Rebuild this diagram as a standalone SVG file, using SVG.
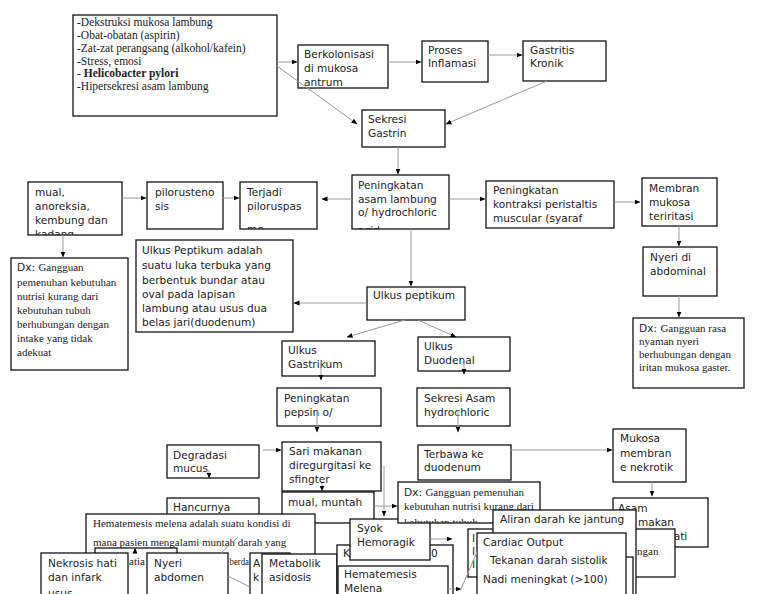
<svg xmlns="http://www.w3.org/2000/svg" width="768" height="594" viewBox="0 0 768 594">
<defs>
<style>
.b{fill:#fff;stroke:#111;stroke-width:1.3}
.n{fill:none;stroke:#111;stroke-width:1.3}
.t{font-family:"DejaVu Sans",sans-serif;font-size:10.6px;fill:#222}
.s{font-family:"Liberation Serif",serif;font-size:11px;fill:#222}
.sl{font-family:"Liberation Serif",serif;font-size:11.5px;fill:#222}
.c{fill:none;stroke:#9a9a9a;stroke-width:1}
.a{marker-end:url(#ah)}
</style>
<marker id="ah" markerUnits="userSpaceOnUse" markerWidth="6" markerHeight="6" refX="5.5" refY="3" orient="auto"><path d="M0,0.5 L6,3 L0,5.5 z" fill="#000"/></marker>
<clipPath id="cBerk"><rect x="298" y="45" width="90" height="43"/></clipPath>
<clipPath id="cGastrin"><rect x="362" y="110" width="83" height="37"/></clipPath>
<clipPath id="cAsam"><rect x="352" y="175" width="97" height="54"/></clipPath>
<clipPath id="cMual"><rect x="28" y="182" width="94" height="53"/></clipPath>
<clipPath id="cTerjadi"><rect x="240" y="182" width="77" height="47"/></clipPath>
<clipPath id="cDxMid"><rect x="398" y="482" width="142" height="41"/></clipPath>
</defs>
<rect width="768" height="594" fill="#fff"/>

<g id="n-causes">
<rect class="b" x="73" y="15" width="204" height="101"/>
<text class="sl" x="77" y="26">-Dekstruksi mukosa lambung</text>
<text class="sl" x="77" y="39">-Obat-obatan (aspirin)</text>
<text class="sl" x="77" y="52">-Zat-zat perangsang (alkohol/kafein)</text>
<text class="sl" x="77" y="65">-Stress, emosi</text>
<text class="sl" x="77" y="77">- <tspan font-weight="bold">Helicobacter pylori</tspan></text>
<text class="sl" x="77" y="90">-Hipersekresi asam lambung</text>
</g>

<g id="n-berkolonisasi">
<rect class="b" x="298" y="45" width="90" height="43"/>
<g clip-path="url(#cBerk)">
<text class="t" x="304" y="58">Berkolonisasi</text>
<text class="t" x="304" y="72">di mukosa</text>
<text class="t" x="304" y="86">antrum</text>
</g>
</g>

<g id="n-proses">
<rect class="b" x="422" y="41" width="66" height="41"/>
<text class="t" x="428" y="54">Proses</text>
<text class="t" x="428" y="67">Inflamasi</text>
</g>

<g id="n-gastritis">
<rect class="b" x="523" y="41" width="83" height="40"/>
<text class="t" x="530" y="54">Gastritis</text>
<text class="t" x="530" y="67">Kronik</text>
</g>

<g id="n-sekresi-gastrin">
<rect class="b" x="362" y="110" width="83" height="37"/>
<g clip-path="url(#cGastrin)">
<text class="t" x="368" y="123">Sekresi</text>
<text class="t" x="368" y="137">Gastrin</text>
</g>
</g>

<g id="n-peningkatan-asam">
<rect class="b" x="352" y="175" width="97" height="54"/>
<g clip-path="url(#cAsam)">
<text class="t" x="358" y="189">Peningkatan</text>
<text class="t" x="358" y="202.5">asam lambung</text>
<text class="t" x="358" y="216">o/ hydrochloric</text>
<text class="t" x="358" y="234">acid</text>
</g>
</g>

<g id="n-mual">
<rect class="b" x="28" y="182" width="94" height="53"/>
<g clip-path="url(#cMual)">
<text class="t" x="35" y="196">mual,</text>
<text class="t" x="35" y="210">anoreksia,</text>
<text class="t" x="35" y="224">kembung dan</text>
<text class="t" x="35" y="238">kadang</text>
</g>
</g>

<g id="n-pilorustenosis">
<rect class="b" x="147" y="182" width="76" height="47"/>
<text class="t" x="155" y="196">pilorusteno</text>
<text class="t" x="155" y="210">sis</text>
</g>

<g id="n-terjadi">
<rect class="b" x="240" y="182" width="77" height="47"/>
<g clip-path="url(#cTerjadi)">
<text class="t" x="247" y="196">Terjadi</text>
<text class="t" x="247" y="210">piloruspas</text>
<text class="t" x="247" y="233">me</text>
</g>
</g>

<g id="n-kontraksi">
<rect class="b" x="486" y="181" width="128" height="47"/>
<text class="t" x="493" y="194">Peningkatan</text>
<text class="t" x="493" y="208">kontraksi peristaltis</text>
<text class="t" x="493" y="222">muscular (syaraf</text>
</g>

<g id="n-membran">
<rect class="b" x="642" y="178" width="75" height="48"/>
<text class="t" x="649" y="192">Membran</text>
<text class="t" x="649" y="206">mukosa</text>
<text class="t" x="649" y="220">teriritasi</text>
</g>

<g id="n-nyeri">
<rect class="b" x="643" y="247" width="74" height="49"/>
<text class="t" x="650" y="261">Nyeri di</text>
<text class="t" x="650" y="275">abdominal</text>
</g>

<g id="n-dx-nyeri">
<rect class="b" x="633" y="318" width="111" height="70"/>
<text class="s" x="639" y="332"><tspan class="t">Dx: </tspan>Gangguan rasa</text>
<text class="s" x="639" y="345">nyaman nyeri</text>
<text class="s" x="639" y="358">berhubungan dengan</text>
<text class="s" x="639" y="371">iritan mukosa gaster.</text>
</g>

<g id="n-dx-nutrisi">
<rect class="b" x="11" y="258" width="117" height="112"/>
<text class="s" x="17" y="271"><tspan class="t">Dx: </tspan>Gangguan</text>
<text class="s" x="17" y="286">pemenuhan kebutuhan</text>
<text class="s" x="17" y="300">nutrisi kurang dari</text>
<text class="s" x="17" y="314">kebutuhan tubuh</text>
<text class="s" x="17" y="328">berhubungan dengan</text>
<text class="s" x="17" y="342">intake yang tidak</text>
<text class="s" x="17" y="356">adekuat</text>
</g>

<g id="n-desc-ulkus">
<rect class="b" x="136" y="240" width="157" height="92"/>
<text class="t" x="142" y="254">Ulkus Peptikum adalah</text>
<text class="t" x="142" y="269">suatu luka terbuka yang</text>
<text class="t" x="142" y="284">berbentuk bundar atau</text>
<text class="t" x="142" y="298">oval pada lapisan</text>
<text class="t" x="142" y="312">lambung atau usus dua</text>
<text class="t" x="142" y="326">belas jari(duodenum)</text>
</g>

<g id="n-ulkus-peptikum">
<rect class="b" x="367" y="287" width="98" height="33"/>
<text class="t" x="373" y="299">Ulkus peptikum</text>
</g>

<g id="n-gastrikum">
<rect class="b" x="282" y="341" width="93" height="35"/>
<text class="t" x="288" y="354">Ulkus</text>
<text class="t" x="288" y="368">Gastrikum</text>
</g>

<g id="n-duodenal">
<rect class="b" x="418" y="337" width="92" height="34"/>
<text class="t" x="424" y="350">Ulkus</text>
<text class="t" x="424" y="364">Duodenal</text>
</g>

<g id="n-pepsin">
<rect class="b" x="277" y="388" width="104" height="38"/>
<text class="t" x="284" y="402">Peningkatan</text>
<text class="t" x="284" y="416">pepsin o/</text>
</g>

<g id="n-sekresi-asam">
<rect class="b" x="417" y="388" width="93" height="38"/>
<text class="t" x="424" y="402">Sekresi Asam</text>
<text class="t" x="424" y="416">hydrochloric</text>
</g>

<g id="n-degradasi">
<rect class="b" x="167" y="445" width="92" height="33"/>
<text class="t" x="173" y="459">Degradasi</text>
<text class="t" x="173" y="472">mucus</text>
</g>

<g id="n-sari">
<rect class="b" x="282" y="442" width="99" height="49"/>
<text class="t" x="289" y="455">Sari makanan</text>
<text class="t" x="289" y="469">diregurgitasi ke</text>
<text class="t" x="289" y="483">sfingter</text>
</g>

<g id="n-terbawa">
<rect class="b" x="418" y="445" width="93" height="35"/>
<text class="t" x="424" y="458">Terbawa ke</text>
<text class="t" x="424" y="471">duodenum</text>
</g>

<g id="n-mukosa">
<rect class="b" x="613" y="429" width="73" height="53"/>
<text class="t" x="620" y="442">Mukosa</text>
<text class="t" x="620" y="457">membran</text>
<text class="t" x="620" y="471">e nekrotik</text>
</g>

<g id="n-hancurnya">
<rect class="b" x="167" y="498" width="92" height="45"/>
<text class="t" x="173" y="511">Hancurnya</text>
</g>

<g id="n-mual-muntah">
<rect class="b" x="282" y="492" width="92" height="31"/>
<text class="t" x="288" y="506">mual, muntah</text>
</g>

<g id="n-desc-hematemesis">
<rect class="b" x="86" y="514" width="229" height="90"/>
<text class="s" x="93" y="527">Hematemesis melena adalah suatu kondisi di</text>
<text class="s" x="93" y="546">mana pasien mengalami muntah darah yang</text>
<text class="s" x="129" y="565">atia</text>
<text class="s" x="229.5" y="565" textLength="19.5" lengthAdjust="spacingAndGlyphs">berda</text>
</g>

<g id="n-hidden-box">
<rect class="n" x="95" y="548" width="82" height="56"/>
</g>

<g id="n-nekrosis">
<rect class="b" x="41" y="553" width="87" height="50"/>
<text class="t" x="48" y="567">Nekrosis hati</text>
<text class="t" x="48" y="581">dan infark</text>
<text class="t" x="48" y="597">usus</text>
</g>

<g id="n-nyeri-abdomen">
<rect class="b" x="147" y="553" width="81" height="50"/>
<text class="t" x="154" y="567">Nyeri</text>
<text class="t" x="154" y="581">abdomen</text>
</g>

<g id="n-a">
<rect class="b" x="250" y="553" width="40" height="50"/>
<text class="t" x="253" y="567">A</text>
<text class="t" x="253" y="581">k</text>
</g>

<g id="n-metabolik">
<rect class="b" x="262" y="554" width="75" height="50"/>
<text class="t" x="269" y="567">Metabolik</text>
<text class="t" x="269" y="581">asidosis</text>
</g>

<g id="n-k">
<rect class="b" x="337" y="545" width="116" height="58"/>
<text class="t" x="343" y="557">K</text>
<text class="t" x="431" y="557">0</text>
</g>

<g id="n-syok">
<rect class="b" x="350" y="519" width="80" height="41"/>
<text class="t" x="357" y="532">Syok</text>
<text class="t" x="357" y="546">Hemoragik</text>
</g>

<g id="n-hematemesis-melena">
<rect class="b" x="338" y="566" width="110" height="40"/>
<text class="t" x="344" y="578">Hematemesis</text>
<text class="t" x="344" y="592">Melena</text>
</g>

<g id="n-dx-mid">
<rect class="b" x="398" y="482" width="142" height="41"/>
<g clip-path="url(#cDxMid)">
<text class="s" x="404" y="496"><tspan class="t">Dx: </tspan>Gangguan pemenuhan</text>
<text class="s" x="404" y="510">kebutuhan nutrisi kurang dari</text>
<text class="s" x="404" y="526">kebutuhan tubuh</text>
</g>
</g>

<g id="n-i">
<rect class="b" x="468" y="529" width="60" height="48"/>
<text class="t" x="472" y="542">I</text>
<text class="t" x="472" y="555">I</text>
<text class="t" x="472" y="568">I</text>
</g>

<g id="n-asam-makan">
<rect class="b" x="613" y="498" width="95" height="49"/>
<text class="t" x="618" y="512">Asam</text>
<text class="t" x="638" y="526">makan</text>
<text class="t" x="667" y="540">hati</text>
</g>

<g id="n-ngan">
<rect class="b" x="560" y="529" width="115" height="48"/>
<text class="s" x="637" y="555">ngan</text>
</g>

<g id="n-aliran">
<rect class="b" x="493" y="510" width="143" height="95"/>
<text class="t" x="500" y="523">Aliran darah ke jantung</text>
</g>

<g id="n-box633">
<rect class="b" x="540" y="557" width="93" height="48"/>
</g>

<g id="n-cardiac">
<rect class="b" x="477" y="533" width="149" height="72"/>
<text class="t" x="483" y="546">Cardiac Output</text>
<text class="t" x="490" y="564">Tekanan darah sistolik</text>
<text class="t" x="483" y="583">Nadi meningkat (&gt;100)</text>
</g>

<g id="connectors">
<path class="c a" d="M277,62 H297"/>
<path class="c a" d="M277,66 L357,124"/>
<path class="c a" d="M388,62 H421"/>
<path class="c a" d="M488,55 H522"/>
<path class="c a" d="M547,81 L446,124"/>
<path class="c a" d="M398,147 V174"/>
<path class="c a" d="M352,199 H322"/>
<path class="c a" d="M122,198 H146"/>
<path class="c a" d="M223,198 H239"/>
<path class="c a" d="M449,199 H485"/>
<path class="c a" d="M614,202 H640"/>
<path class="c a" d="M679,226 V246"/>
<path class="c a" d="M679,296 V317"/>
<path class="c a" d="M63,235 V257"/>
<path class="c a" d="M411,229 V286"/>
<path class="c a" d="M367,303 H294"/>
<path class="c a" d="M405,320 L347,337"/>
<path class="c a" d="M418,320 L456,337"/>
<path class="c a" d="M321,362 V380"/>
<path class="c a" d="M464,360 V374"/>
<path class="c a" d="M317,410 V432"/>
<path class="c a" d="M458,410 V432"/>
<path class="c a" d="M209,470 V478"/>
<path class="c a" d="M263,450 H281"/>
<path class="c a" d="M322,483 V491"/>
<path class="c a" d="M511,450 H612"/>
<path class="c a" d="M652,482 V496"/>
<path class="c a" d="M374,506 H397"/>
<path class="c a" d="M384,466 V516"/>
<path class="c a" d="M430,539 H452"/>
<path class="c a" d="M448,589 H461"/>
<path class="c" d="M461,589 L477,552"/>
<path class="c a" d="M135,554 V548"/>
<path class="c" d="M228,576 L250,587"/>
<path class="c" d="M221,553 L238,537"/>
</g>
</svg>
